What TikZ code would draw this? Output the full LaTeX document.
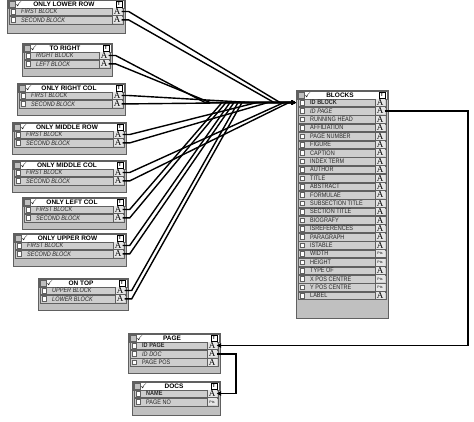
\documentclass[tikz,border=0pt]{standalone}
\usepackage{fontspec}
\usepackage{amssymb}
\setmainfont{Liberation Sans}
\newfontfamily\rowfont[FakeStretch=0.85]{Liberation Sans}
\newfontfamily\iconfont{Liberation Serif}
\usetikzlibrary{arrows.meta}

\definecolor{boxgray}{RGB}{192,192,192}
\definecolor{rowgray}{RGB}{206,206,206}
\definecolor{cellgray}{RGB}{230,230,230}
\definecolor{edgegray}{RGB}{96,96,96}
\definecolor{txtgray}{RGB}{40,40,40}

\tikzset{
  tblframe/.style={fill=boxgray, draw=edgegray, line width=0.8pt},
  titlebar/.style={fill=white, draw=edgegray, line width=0.5pt},
  titletext/.style={inner sep=0pt, font=\fontsize{6.5}{7}\selectfont\bfseries},
  lefticon/.style={draw=edgegray, fill=boxgray, minimum size=6pt, inner sep=0pt, line width=0.4pt},
  ticon/.style={draw=black, fill=white, minimum size=6pt, inner sep=0pt, line width=0.4pt,
    font=\fontsize{5}{5}\selectfont\bfseries},
  rowfill/.style={fill=rowgray, draw=edgegray, line width=0.3pt},
  rowtext/.style={anchor=west, inner sep=0pt, text=txtgray, font=\rowfont\fontsize{6.5}{7}\selectfont},
  chkbox/.style={draw=edgegray, fill=white, minimum size=4.5pt, inner sep=0pt, line width=0.4pt},
  iconcell/.style={fill=cellgray, minimum width=9pt, minimum height=7pt, inner sep=0pt},
  link/.style={line width=1.4pt, black},
  arrowin/.style={-{Triangle[length=4.5pt,width=4.5pt]}}
}

\newcommand{\iconA}{{\iconfont\fontsize{9}{9}\selectfont A}}
\newcommand{\iconP}{{\fontsize{3.5}{4}\selectfont Pts}}

% #1 name, #2 left, #3 top, #4 width, #5 height, #6 title, #7 rows (text/font/icon)
\newcommand{\dbtable}[7]{%
  \draw[tblframe] (#2,#3) rectangle ++(#4,#5);
  \draw[titlebar] (#2+1,#3+0.8) rectangle (#2+#4-1,#3+8.8);
  \node[lefticon] (#1-ic) at (#2+5,#3+4.8) {};
  \node[inner sep=0pt, font=\fontsize{7}{7}\selectfont] (#1-ck) at (#2+12,#3+4.8) {$\checkmark$};
  \node[titletext] (#1-title) at (#2+#4/2-2,#3+4.8) {#6};
  \node[ticon] (#1-t) at (#2+#4-6,#3+4.8) {T};
  \foreach \lbl/\fnt/\ic [count=\k] in {#7}{
    \pgfmathsetmacro\yy{#3+12.5+(\k-1)*8.4}
    \draw[rowfill] (#2+2,\yy-3.8) rectangle (#2+#4-2,\yy+3.8);
    \node[chkbox] (#1-c\k) at (#2+6,\yy) {};
    \node[rowtext] (#1-r\k) at (#2+14,\yy) {\fnt\lbl};
    \node[iconcell] (#1-a\k) at (#2+#4-8,\yy) {\ic};
    \draw[edgegray, line width=0.5pt] (#1-a\k.north west) -- (#1-a\k.south west);
    \coordinate (#1-in\k) at (#2,\yy);
  }
}

\begin{document}
\begin{tikzpicture}[x=1pt, y=-1pt]

\useasboundingbox (0,0) rectangle (474,421);

%% ── Layout tables (left) ────────────────────
\dbtable{lowrow}{7}{-1}{118}{34}{ONLY LOWER ROW}
  {FIRST BLOCK/\itshape/\iconA, SECOND BLOCK/\itshape/\iconA}
\dbtable{toright}{22}{43}{90}{33}{TO RIGHT}
  {RIGHT BLOCK/\itshape/\iconA, LEFT BLOCK/\itshape/\iconA}
\dbtable{rightcol}{17}{83}{108}{32}{ONLY RIGHT COL}
  {FIRST BLOCK/\itshape/\iconA, SECOND BLOCK/\itshape/\iconA}
\dbtable{midrow}{12}{122}{114}{32}{ONLY MIDDLE ROW}
  {FIRST BLOCK/\itshape/\iconA, SECOND BLOCK/\itshape/\iconA}
\dbtable{midcol}{12}{160}{114}{32}{ONLY MIDDLE COL}
  {FIRST BLOCK/\itshape/\iconA, SECOND BLOCK/\itshape/\iconA}
\dbtable{leftcol}{22}{197}{104}{32}{ONLY LEFT COL}
  {FIRST BLOCK/\itshape/\iconA, SECOND BLOCK/\itshape/\iconA}
\dbtable{uprow}{13}{233}{113}{33}{ONLY UPPER ROW}
  {FIRST BLOCK/\itshape/\iconA, SECOND BLOCK/\itshape/\iconA}
\dbtable{ontop}{38}{278}{90}{32}{ON TOP}
  {UPPER BLOCK/\itshape/\iconA, LOWER BLOCK/\itshape/\iconA}

%% ── Main table (right) ────────────────────
\dbtable{blocks}{296}{90}{92}{228}{BLOCKS}
  {ID BLOCK/\bfseries/\iconA, ID PAGE/\itshape/\iconA,
   RUNNING HEAD/\relax/\iconA, AFFILIATION/\relax/\iconA,
   PAGE NUMBER/\relax/\iconA, FIGURE/\relax/\iconA,
   CAPTION/\relax/\iconA, INDEX TERM/\relax/\iconA,
   AUTHOR/\relax/\iconA, TITLE/\relax/\iconA,
   ABSTRACT/\relax/\iconA, FORMULAE/\relax/\iconA,
   SUBSECTION TITLE/\relax/\iconA, SECTION TITLE/\relax/\iconA,
   BIOGRAFY/\relax/\iconA, ISREFERENCES/\relax/\iconA,
   PARAGRAPH/\relax/\iconA, ISTABLE/\relax/\iconA,
   WIDTH/\relax/\iconP, HEIGHT/\relax/\iconP,
   TYPE OF/\relax/\iconA, X POS CENTRE/\relax/\iconP,
   Y POS CENTRE/\relax/\iconP, LABEL/\relax/\iconA}

%% ── Page and docs (bottom) ────────────────────
\dbtable{page}{128}{333}{92}{40}{PAGE}
  {ID PAGE/\bfseries/\iconA, ID DOC/\itshape/\iconA, PAGE POS/\relax/\iconA}
\dbtable{docs}{132}{381}{88}{34}{DOCS}
  {NAME/\bfseries/\iconA, PAGE NO/\relax/\iconP}

% join points on the ID BLOCK line
\foreach \nm/\xx in {lowrow1/280, lowrow2/274, toright1/205, toright2/210,
                     rightcol1/250, rightcol2/262, midrow1/257, midrow2/268,
                     midcol1/284, midcol2/289, leftcol1/222, leftcol2/226,
                     uprow1/230, uprow2/234, ontop1/238, ontop2/242}
  \coordinate (j-\nm) at (\xx,102.5);

% every layout block points to ID BLOCK
\foreach \tb in {lowrow, toright, rightcol, midrow, midcol, leftcol, uprow, ontop}{
  \draw[link, arrowin] (\tb-a1.east) -- ++(7,0) -- (j-\tb1) -- (blocks-in1);
  \draw[link, arrowin] (\tb-a2.east) -- ++(7,0) -- (j-\tb2) -- (blocks-in1);
}

% ID PAGE -> PAGE, ID DOC -> DOCS
\coordinate (rt) at (468,0);
\coordinate (dt) at (236,0);
\draw[link, arrowin] (blocks-a2.east) -- (blocks-a2.east -| rt)
      -- (rt |- page-a1.east) -- (page-a1.east);
\draw[link, arrowin] (page-a2.east) -- (page-a2.east -| dt)
      -- (dt |- docs-a1.east) -- (docs-a1.east);

\end{tikzpicture}
\end{document}
